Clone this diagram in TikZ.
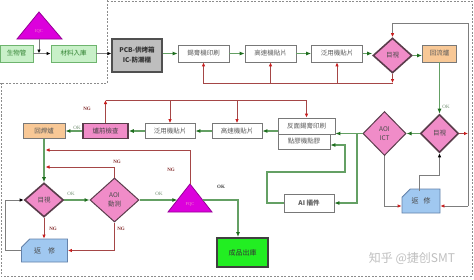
\documentclass[tikz,border=0pt]{standalone}
\usepackage{fontspec}
\setmainfont{Liberation Serif}
\newfontfamily\cjk{Noto Sans CJK TC}
\newfontfamily\cjksc{Noto Sans CJK SC}
\usetikzlibrary{shapes.geometric,shapes.misc,arrows.meta,calc}
\definecolor{boxline}{RGB}{120,120,120}
\definecolor{boxtext}{RGB}{90,90,90}
\definecolor{lgfill}{RGB}{200,240,200}
\definecolor{lgline}{RGB}{110,180,110}
\definecolor{lgtext}{RGB}{50,130,50}
\definecolor{pcbfill}{RGB}{190,190,190}
\definecolor{pcbline}{RGB}{80,80,80}
\definecolor{pinkfill}{RGB}{240,140,200}
\definecolor{dline}{RGB}{90,60,75}
\definecolor{orfill}{RGB}{248,200,150}
\definecolor{magfill}{RGB}{220,0,220}
\definecolor{magline}{RGB}{150,0,150}
\definecolor{bluefill}{RGB}{160,200,240}
\definecolor{blueline}{RGB}{100,130,170}
\definecolor{brgreen}{RGB}{34,238,34}
\definecolor{greenline}{RGB}{100,160,100}
\definecolor{greenhead}{RGB}{30,110,30}
\definecolor{redline}{RGB}{165,70,70}
\definecolor{redhead}{RGB}{200,30,30}
\definecolor{grayline}{RGB}{125,125,125}
\definecolor{nglab}{RGB}{130,40,40}
\definecolor{oklab}{RGB}{110,140,110}
\begin{document}
\begin{tikzpicture}[x=1bp,y=-1bp,
  base/.style={inner sep=0pt, font=\cjk\fontsize{6.5bp}{7.5bp}\selectfont},
  box/.style={base, draw=boxline, fill=white, line width=0.7bp, text=boxtext},
  lgbox/.style={base, draw=lgline, fill=lgfill, line width=0.8bp, text=lgtext},
  pcbbox/.style={base, draw=pcbline, fill=pcbfill, line width=1.2bp, text=black!80, align=center, font=\cjk\bfseries\fontsize{6.5bp}{10bp}\selectfont},
  orbox/.style={base, draw=boxline, fill=orfill, line width=0.8bp, text=boxtext},
  pinkbox/.style={base, draw=dline, fill=pinkfill, line width=1.6bp, text=black!75},
  dia/.style={base, diamond, draw=dline, fill=pinkfill, line width=1.6bp, text=black!70, align=center},
  diathin/.style={dia, line width=1bp},
  repbox/.style={base, chamfered rectangle, chamfered rectangle corners=north west, chamfered rectangle xsep=5bp, chamfered rectangle ysep=5bp, draw=blueline, fill=bluefill, line width=0.8bp, text=black!70, font=\cjk\fontsize{7bp}{8bp}\selectfont},
  donebox/.style={base, draw=black!75, fill=brgreen, line width=2bp, text=black!80, font=\cjk\fontsize{7bp}{8bp}\selectfont},
  tri/.style={draw=magline, fill=magfill, line width=0.8bp},
  trilabel/.style={inner sep=0pt, font=\fontsize{4.5bp}{5bp}\selectfont, text=pinkfill},
  gline/.style={draw=greenline, line width=1.6bp},
  garrow/.style={gline, -{Latex[length=5bp,width=4bp,color=greenhead]}},
  rline/.style={draw=redline, line width=0.8bp},
  rarrow/.style={rline, -{Latex[length=4bp,width=3.5bp,color=redhead]}},
  kline/.style={draw=grayline, line width=0.8bp},
  karrow/.style={kline, -{Latex[length=4bp,width=3.5bp,color=black]}},
  krarrow/.style={kline, -{Latex[length=4bp,width=3.5bp,color=redhead]}},
  ng/.style={inner sep=0pt, font=\bfseries\fontsize{5bp}{6bp}\selectfont, text=nglab},
  ok/.style={inner sep=0pt, font=\fontsize{5bp}{6bp}\selectfont, text=oklab},
  dashline/.style={draw=black!45, line width=0.7bp, dash pattern=on 2bp off 1.5bp}
]
\useasboundingbox (0,0) rectangle (474,279);
\fill[white] (0,0) rectangle (474,279);
% dashed borders
\draw[dashline] (107,0) -- (107,83) -- (0,83);
\draw[dashline] (107,1) -- (472,1) -- (472,276) -- (1,276) -- (1,83);

% ---- top left
\node[lgbox, minimum width=33bp, minimum height=17bp] (bio) at (16.5,53.5) {生物管};
\node[lgbox, minimum width=45bp, minimum height=17bp] (mat) at (73.5,53.5) {材料入庫};
\coordinate (iqcT) at (39,12); \coordinate (iqcL) at (17,39); \coordinate (iqcR) at (62,39);
\draw[tri] (iqcT) -- (iqcR) -- (iqcL) -- cycle;
\node[trilabel] (iqc) at (39,31) {IQC};
\coordinate (iqcB) at (39,39);
\coordinate (j0) at (39,53.5);
\draw[karrow] (iqcB) -- (j0);
\draw[karrow] (bio.east) -- (mat.west);
\node[pcbbox, minimum width=50bp, minimum height=33bp] (pcb) at (137,55.5) {PCB-供烤箱\\IC-防潮櫃};
\draw[karrow] (mat.east) -- (mat.east -| pcb.west);

% ---- top row
\node[box, minimum width=51bp, minimum height=17bp] (print1) at (203.5,53.5) {錫膏機印刷};
\node[box, minimum width=51bp, minimum height=17bp] (fast1) at (270.5,53.5) {高速機貼片};
\node[box, minimum width=51bp, minimum height=17bp] (gen1) at (337,53.5) {泛用機貼片};
\node[dia, minimum width=39bp, minimum height=35bp] (vis1) at (392.5,55.5) {目視};
\node[orbox, minimum width=34bp, minimum height=17bp] (reflow1) at (439.5,53.5) {回流爐};
\draw[garrow] (pcb.east |- print1.west) -- (print1.west);
\draw[garrow] (print1.east) -- (fast1.west);
\draw[garrow] (fast1.east) -- (gen1.west);
\draw[garrow] (gen1.east) -- (gen1.east -| vis1.west);
\draw[garrow] (vis1.east) -- (vis1.east -| reflow1.west);

% top NG loop
\coordinate (rb) at (392.5,83);
\draw[rarrow] (vis1.south) -- (rb);
\draw[rarrow] (rb) -| (print1.south);
\draw[rarrow] (fast1.south |- rb) -- (fast1.south);
\draw[rarrow] (gen1.south |- rb) -- (gen1.south);

% ---- right column
\node[dia, minimum width=38bp, minimum height=38bp] (vis2) at (439.5,133.5) {目視};
\node[diathin, minimum width=43bp, minimum height=44bp] (aoi1) at (384.5,133.5) {AOI\\[2bp]ICT};
\node[repbox, minimum width=38bp, minimum height=24bp] (rep1) at (421,201) {返\hspace{5bp}修};
\draw[garrow] (reflow1.south) -- (vis2.north);
\node[ok] (ok1) at (446,107) {OK};
\draw[garrow] (vis2.west) -- (aoi1.east);
\coordinate (rt) at (468,23); \coordinate (rbt) at (468,206);
\draw[kline] (rt) -- (rbt);
\draw[rarrow] (vis2.east) -- (vis2.east -| rt);
\draw[krarrow] (rt) -| (vis1.north);
\draw[krarrow] (rbt) -- ($(rep1.east)+(0,5)$);
\draw[krarrow] (aoi1.south) |- ($(rep1.west)+(0,5)$);
\draw[karrow] ($(rep1.north west)!0.4!(rep1.north east)$) -- ++(0,-16) -| (vis2.south);

% ---- middle row
\node[box, minimum width=57bp, minimum height=16bp] (back) at (306.5,126) {反面錫膏印刷};
\node[box, minimum width=52bp, minimum height=15bp] (glue) at (304,141.5) {點膠機點膠};
\node[box, minimum width=50bp, minimum height=18bp, font=\cjk\bfseries\fontsize{6.5bp}{7.5bp}\selectfont] (ai) at (309,203) {AI 插件};
\coordinate (j1) at (357,134);
\draw[garrow] (aoi1.west) -- (aoi1.west -| back.east);
\draw[garrow] (j1) |- (ai.east);
\coordinate (gl1) at (267,172); \coordinate (gl2) at (345,172); \coordinate (gl3) at (345,145);
\draw[garrow] (ai.west) -| (gl1) -- (gl2) -- (gl3) -- (gl3 -| glue.east);

\node[box, minimum width=50bp, minimum height=15bp] (fast2) at (237,131) {高速機貼片};
\node[box, minimum width=50bp, minimum height=15bp] (gen2) at (170,131) {泛用機貼片};
\node[pinkbox, minimum width=45bp, minimum height=15bp] (pre) at (105.5,131) {爐前檢查};
\node[orbox, minimum width=42bp, minimum height=15bp] (reflow2) at (44,131) {回焊爐};
\draw[garrow] (back.west |- fast2.east) -- (fast2.east);
\draw[garrow] (fast2.west) -- (gen2.east);
\draw[garrow] (gen2.west) -- (pre.east);
\draw[garrow] (pre.west) -- (reflow2.east);
\node[ok] (ok2) at (77,127.5) {OK};
\coordinate (ng2) at (105.5,100);
\draw[rarrow] (pre.north) -- (ng2);
\draw[rarrow] (ng2) -| (back.north);
\draw[rarrow] (gen2.north |- ng2) -- (gen2.north);
\draw[rarrow] (fast2.north |- ng2) -- (fast2.north);
\node[ng] (ngl1) at (87,108.5) {NG};

% ---- bottom
\node[dia, minimum width=39bp, minimum height=34bp] (vis3) at (44,200) {目視};
\node[diathin, minimum width=49bp, minimum height=44bp] (aoi2) at (114.5,200) {AOI\\[2bp]動測};
\coordinate (fqcT) at (190,184); \coordinate (fqcBL) at (168,212); \coordinate (fqcBR) at (212,212);
\draw[tri] (fqcT) -- (fqcBR) -- (fqcBL) -- cycle;
\node[trilabel] (fqc) at (190,204) {FQC};
\coordinate (fqcL) at (177.4,200); \coordinate (fqcR) at (202.6,200);
\node[donebox, minimum width=51bp, minimum height=29bp] (done) at (242.5,252.5) {成品出庫};
\node[repbox, minimum width=46bp, minimum height=23bp] (rep2) at (44.5,250.5) {返\hspace{7bp}修};

\draw[garrow] (reflow2.south) -- (vis3.north);
\draw[garrow] (vis3.east) -- (aoi2.west);
\node[ok] (ok3) at (71,194) {OK};
\draw[garrow] (aoi2.east) -- (fqcL);
\node[ok] (ok4) at (159,194) {OK};
\coordinate (gk) at (238,200);
\draw[garrow] (fqcR) -- (gk) -- (gk |- done.north);
\node[ok, font=\bfseries\fontsize{5bp}{6bp}\selectfont, text=black!75] (ok5) at (221,187) {OK};

\coordinate (n3) at (190,150); \coordinate (n4) at (114.5,167);
\draw[rarrow] (fqcT) |- ($(reflow2.south |- n3)+(1.5,0)$);
\node[ng] (ngl2) at (171,170) {NG};
\draw[rarrow] (aoi2.north) |- ($(reflow2.south |- n4)+(1.5,0)$);
\node[ng] (ngl3) at (117,161.5) {NG};
\draw[rarrow] (vis3.south) -- (vis3.south |- rep2.north);
\node[ng] (ngl4) at (53,229) {NG};
\draw[rarrow] (aoi2.south) |- (rep2.east);
\node[ng] (ngl5) at (121,229) {NG};
\draw[karrow] (rep2.west) -- ++(-16,0) |- (vis3.west);

% watermark
\node[inner sep=0pt, font=\cjksc\fontsize{12bp}{13bp}\selectfont, text=black!25] (wm) at (412,258) {知乎 @捷创SMT};
\end{tikzpicture}
\end{document}
